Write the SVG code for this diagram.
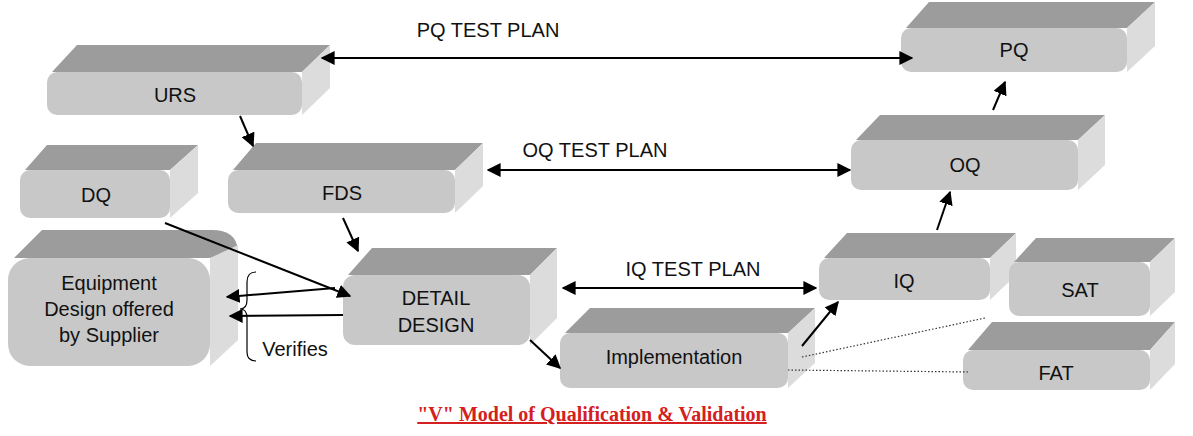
<svg xmlns="http://www.w3.org/2000/svg" width="1193" height="436" viewBox="0 0 1193 436">
<style>
.top{fill:#9c9c9c}
.side{fill:#dcdcdc}
.front{fill:#c8c8c8}
.t{font-family:"Liberation Sans",Arial,sans-serif;font-size:20px;fill:#111;text-anchor:middle}
.c{stroke:#000;stroke-width:2;fill:none}
.d{stroke:#333;stroke-width:1.2;stroke-dasharray:1.5 2;fill:none}
</style>
<defs>
<marker id="a" viewBox="0 0 10 10" refX="9" refY="5" markerWidth="7" markerHeight="7" orient="auto-start-reverse"><path d="M0,0 L10,5 L0,10 z" fill="#000"/></marker>
</defs>
<rect width="1193" height="436" fill="#fff"/>
<g id="urs"><path class="top" d="M52,72 L77,45 L330,45 L302,72 z"/><path class="side" d="M302,72 L330,45 L330,88 L302,115 z"/><rect class="front" x="47" y="72" width="255" height="43" rx="10"/><text class="t" x="175" y="102">URS</text></g>
<g id="pq"><path class="top" d="M906,28 L929,2 L1155,2 L1127,28 z"/><path class="side" d="M1127,28 L1155,2 L1155,46 L1127,72 z"/><rect class="front" x="901" y="28" width="226" height="44" rx="10"/><text class="t" x="1014" y="57">PQ</text></g>
<g id="dq"><path class="top" d="M25,170 L47,145 L198,145 L170,170 z"/><path class="side" d="M170,170 L198,145 L198,193 L170,218 z"/><rect class="front" x="20" y="170" width="150" height="48" rx="10"/><text class="t" x="96" y="202">DQ</text></g>
<g id="fds"><path class="top" d="M233,170 L256,143 L483,143 L455,170 z"/><path class="side" d="M455,170 L483,143 L483,186 L455,213 z"/><rect class="front" x="228" y="170" width="227" height="43" rx="10"/><text class="t" x="342" y="200">FDS</text></g>
<g id="oq"><path class="top" d="M856,140 L880,115 L1105,115 L1078,140 z"/><path class="side" d="M1078,140 L1105,115 L1105,165 L1078,190 z"/><rect class="front" x="851" y="140" width="227" height="50" rx="10"/><text class="t" x="965" y="172">OQ</text></g>
<g id="equip"><path class="top" d="M14,258 L42,230 L212,230 Q236,230 238,250 L210,258 z"/><path class="side" d="M210,258 L238,245 L238,340 L210,366 z"/><rect class="front" x="8" y="258" width="202" height="108" rx="22"/><text class="t" x="109" y="290">Equipment</text><text class="t" x="109" y="316">Design offered</text><text class="t" x="109" y="342">by Supplier</text></g>
<g id="detail"><path class="top" d="M348,275 L372,248 L557,248 L530,275 z"/><path class="side" d="M530,275 L557,248 L557,318 L530,345 z"/><rect class="front" x="343" y="275" width="187" height="70" rx="12"/><text class="t" x="436" y="305">DETAIL</text><text class="t" x="436" y="332">DESIGN</text></g>
<g id="impl"><path class="top" d="M565,333 L590,308 L815,308 L788,333 z"/><path class="side" d="M788,333 L815,308 L815,363 L788,388 z"/><rect class="front" x="560" y="333" width="228" height="55" rx="10"/><text class="t" x="674" y="364">Implementation</text></g>
<g id="iq"><path class="top" d="M824,258 L847,233 L1016,233 L990,258 z"/><path class="side" d="M990,258 L1016,233 L1016,275 L990,300 z"/><rect class="front" x="819" y="258" width="171" height="42" rx="10"/><text class="t" x="904" y="288">IQ</text></g>
<g id="sat"><path class="top" d="M1014,262 L1036,238 L1175,238 L1150,262 z"/><path class="side" d="M1150,262 L1175,238 L1175,292 L1150,316 z"/><rect class="front" x="1009" y="262" width="141" height="54" rx="10"/><text class="t" x="1080" y="297">SAT</text></g>
<g id="fat"><path class="top" d="M968,350 L992,322 L1175,322 L1150,350 z"/><path class="side" d="M1150,350 L1175,322 L1175,364 L1150,390 z"/><rect class="front" x="963" y="350" width="187" height="40" rx="10"/><text class="t" x="1056" y="380">FAT</text></g>
<g id="connectors">
<line class="c" x1="322" y1="58" x2="912" y2="58" marker-start="url(#a)" marker-end="url(#a)"/>
<line class="c" x1="488" y1="170" x2="850" y2="170" marker-start="url(#a)" marker-end="url(#a)"/>
<line class="c" x1="563" y1="288" x2="816" y2="288" marker-start="url(#a)" marker-end="url(#a)"/>
<line class="c" x1="240" y1="116" x2="253" y2="146" marker-end="url(#a)"/>
<line class="c" x1="343" y1="218" x2="358" y2="251" marker-end="url(#a)"/>
<line class="c" x1="165" y1="223" x2="350" y2="296" marker-end="url(#a)"/>
<line class="c" x1="335" y1="288" x2="227" y2="297" marker-end="url(#a)"/>
<line class="c" x1="343" y1="315" x2="230" y2="316" marker-end="url(#a)"/>
<line class="c" x1="530" y1="340" x2="560" y2="368" marker-end="url(#a)"/>
<line class="c" x1="802" y1="346" x2="838" y2="302" marker-end="url(#a)"/>
<line class="c" x1="937" y1="230" x2="950" y2="192" marker-end="url(#a)"/>
<line class="c" x1="993" y1="110" x2="1005" y2="82" marker-end="url(#a)"/>
<line class="d" x1="802" y1="357" x2="985" y2="318"/>
<line class="d" x1="788" y1="370" x2="970" y2="372"/>
<path d="M256,272 Q247,272 247,282 L247,300 Q247,309 240,309 Q247,309 247,318 L247,352 Q247,361 256,361" stroke="#000" stroke-width="1.2" fill="none"/>
</g>
<text class="t" x="488" y="37">PQ TEST PLAN</text>
<text class="t" x="595" y="157">OQ TEST PLAN</text>
<text class="t" x="693" y="276">IQ TEST PLAN</text>
<text class="t" x="295" y="356">Verifies</text>
<text x="592" y="421" font-family="Liberation Serif,'Times New Roman',serif" font-weight="bold" font-size="20" fill="#d42020" text-anchor="middle" text-decoration="underline">"V" Model of Qualification &amp; Validation</text>
</svg>
